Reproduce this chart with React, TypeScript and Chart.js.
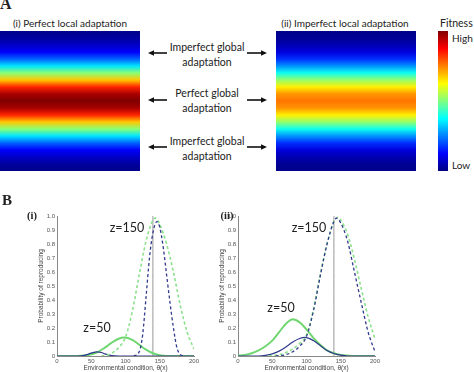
import React, { useEffect, useRef } from "react";
import { Chart, registerables } from "chart.js";
Chart.register(...registerables);

// ---------- DATA ----------
// Fitness profiles of the heat maps, top row to bottom row
const HEAT_PERFECT = [0.01, 0.03, 0.07, 0.12, 0.22, 0.35, 0.51, 0.68, 0.84, 0.96, 1.0, 0.96, 0.84, 0.68, 0.51, 0.35, 0.22, 0.12, 0.07, 0.03, 0.01];
const HEAT_IMPERFECT = [0.01, 0.02, 0.05, 0.09, 0.17, 0.27, 0.39, 0.52, 0.64, 0.73, 0.76, 0.73, 0.64, 0.52, 0.39, 0.27, 0.17, 0.09, 0.05, 0.02, 0.01];
const COLORBAR_LEVELS = [1, 0.875, 0.75, 0.625, 0.5, 0.375, 0.25, 0.125, 0];

// Panel B(i): [environmental condition, probability]
const B1_GREEN_SOLID: [number, number][] = [[0, 0], [30, 0], [40, 0.003], [50, 0.012], [60, 0.03], [70, 0.06], [80, 0.095], [90, 0.123], [98, 0.132], [110, 0.115], [120, 0.08], [130, 0.045], [140, 0.02], [150, 0.006], [160, 0], [200, 0]];
const B1_BLUE_SOLID: [number, number][] = [[0, 0], [30, 0], [40, 0.005], [50, 0.02], [58, 0.03], [65, 0.025], [70, 0.015], [80, 0.003], [90, 0], [200, 0]];
const B1_GREEN_DASH: [number, number][] = [[65, 0], [70, 0.003], [80, 0.02], [90, 0.06], [100, 0.135], [110, 0.32], [120, 0.58], [130, 0.82], [140, 0.97], [144, 0.985], [150, 0.94], [160, 0.8], [170, 0.6], [180, 0.36], [190, 0.17], [200, 0.05]];
const B1_BLUE_DASH: [number, number][] = [[112, 0], [120, 0.03], [125, 0.15], [130, 0.42], [135, 0.7], [140, 0.88], [146, 0.96], [150, 0.92], [155, 0.78], [160, 0.58], [165, 0.38], [170, 0.2], [175, 0.06], [180, 0.01], [185, 0]];

// Panel B(ii)
const B2_GREEN_SOLID: [number, number][] = [[0, 0.003], [10, 0.008], [20, 0.02], [30, 0.04], [40, 0.07], [50, 0.11], [60, 0.17], [70, 0.23], [80, 0.262], [90, 0.24], [100, 0.19], [110, 0.13], [120, 0.08], [130, 0.04], [140, 0.02], [150, 0.008], [160, 0.003], [170, 0], [200, 0]];
const B2_BLUE_SOLID: [number, number][] = [[0, 0], [30, 0], [40, 0.005], [50, 0.015], [60, 0.035], [70, 0.065], [80, 0.1], [90, 0.125], [98, 0.133], [110, 0.11], [120, 0.075], [130, 0.04], [140, 0.018], [150, 0.006], [160, 0], [200, 0]];
const B2_GREEN_DASH: [number, number][] = [[45, 0], [60, 0.01], [70, 0.025], [80, 0.05], [90, 0.09], [100, 0.15], [110, 0.33], [120, 0.58], [130, 0.8], [140, 0.96], [146, 0.99], [150, 0.97], [160, 0.87], [170, 0.69], [180, 0.48], [190, 0.28], [200, 0.12]];
const B2_BLUE_DASH: [number, number][] = [[55, 0], [70, 0.01], [80, 0.03], [90, 0.07], [100, 0.14], [110, 0.32], [120, 0.57], [130, 0.8], [140, 0.96], [144, 0.985], [150, 0.95], [160, 0.82], [170, 0.6], [180, 0.38], [190, 0.17], [200, 0.03]];

const OPTIMUM: [number, number][] = [[140, 0], [140, 1]];

// ---------- STYLE ----------
const GREEN = "rgb(112,214,112)";
const GREEN_DASH = "rgb(140,225,140)";
const BLUE = "rgb(48,58,140)";
const GREY = "rgb(150,150,150)";
const SANS = "Liberation Sans, Arial, sans-serif";
const HUMAN = "Lato, 'Open Sans', sans-serif";
const SERIF = "'Liberation Serif', 'Times New Roman', serif";

function jet(v: number) {
  const c = (x: number) => Math.max(0, Math.min(1, x));
  const r = c(1.5 - Math.abs(4 * v - 3));
  const g = c(1.5 - Math.abs(4 * v - 2));
  const b = c(1.5 - Math.abs(4 * v - 1));
  return `rgb(${Math.round(r * 255)},${Math.round(g * 255)},${Math.round(b * 255)})`;
}

function ChartBox({ config, left, top, width, height }: any) {
  const ref = useRef<HTMLCanvasElement>(null);
  useEffect(() => {
    const chart = new Chart(ref.current as HTMLCanvasElement, config());
    return () => chart.destroy();
  }, []);
  return (
    <canvas
      ref={ref}
      width={width}
      height={height}
      style={{ position: "absolute", left, top, width, height }}
    />
  );
}

function heatConfig(profile: number[]) {
  const n = profile.length;
  return () => ({
    type: "bar",
    data: { labels: [""], datasets: [{ data: [n - 1], borderWidth: 0,
      backgroundColor: (ctx: any) => {
        const chart = ctx.chart;
        const area = chart.chartArea;
        if (!area) return jet(profile[0]);
        const ys = chart.scales.y;
        const g = chart.ctx.createLinearGradient(0, area.top, 0, area.bottom);
        profile.forEach((v, i) => {
          const p = ys.getPixelForValue(n - 1 - i);
          const off = Math.max(0, Math.min(1, (p - area.top) / (area.bottom - area.top)));
          g.addColorStop(off, jet(v));
        });
        return g;
      },
      barPercentage: 1, categoryPercentage: 1 }] },
    options: {
      animation: false, responsive: false,
      layout: { padding: 0 },
      plugins: { legend: { display: false }, tooltip: { enabled: false } },
      scales: {
        x: { display: false },
        y: { display: false, min: 0, max: n - 1 },
      },
    },
  });
}

function lineDs(points: [number, number][], color: string, width: number, dash: number[] = []) {
  return {
    data: points.map(([x, y]) => ({ x, y })),
    borderColor: color, borderWidth: width, borderDash: dash,
    pointRadius: 0, fill: false, cubicInterpolationMode: "monotone",
  };
}

function probConfig(gs: any, bs: any, gd: any, bd: any) {
  return () => ({
    type: "line",
    data: {
      datasets: [
        lineDs(bd, BLUE, 1.3, [3, 2.5]),
        lineDs(gd, GREEN_DASH, 1.6, [3, 2.5]),
        lineDs(bs, BLUE, 1.2),
        lineDs(gs, GREEN, 2),
        lineDs(OPTIMUM, GREY, 1),
      ],
    },
    options: {
      animation: false, responsive: false,
      layout: { padding: { left: 37, top: 16, right: 16, bottom: 0 } },
      plugins: { legend: { display: false }, tooltip: { enabled: false } },
      scales: {
        x: {
          type: "linear", min: 0, max: 200,
          ticks: { stepSize: 50, font: { size: 6, family: SANS }, color: "#555", padding: 2, maxRotation: 0 },
          grid: { display: false, drawTicks: false },
          border: { display: true, color: "#888", width: 1 },
          title: { display: true, text: "Environmental condition, θ(x)", font: { size: 6.5, family: SANS }, color: "#444", padding: 0 },
          afterFit: (s: any) => { s.height = 16; },
        },
        y: {
          min: 0, max: 1,
          ticks: { stepSize: 0.1, font: { size: 6, family: SANS }, color: "#555", padding: 2 },
          grid: { display: false, drawTicks: false },
          border: { display: true, color: "#888", width: 1 },
          title: { display: true, text: "Probability of reproducing", font: { size: 6.5, family: SANS }, color: "#444", padding: 0 },
          afterFit: (s: any) => { s.width = 20; },
        },
      },
    },
  });
}

function Txt({ x, y, children, size = 10.5, family = HUMAN, weight = 400, color = "#222", anchor = "center" }: any) {
  const tx = anchor === "center" ? "-50%" : anchor === "right" ? "-100%" : "0";
  return (
    <div style={{ position: "absolute", left: x, top: y, transform: `translate(${tx},-50%)`, fontSize: size, fontFamily: family, fontWeight: weight, color, whiteSpace: "nowrap", lineHeight: 1 }}>
      {children}
    </div>
  );
}

function Arrow({ x1, x2, y }: any) {
  const dir = x2 > x1 ? 1 : -1;
  const hl = 6;
  return (
    <g>
      <line x1={x1 + dir * hl} y1={y} x2={x2} y2={y} stroke="#111" strokeWidth={1.6} />
      <polygon points={`${x1},${y} ${x1 + dir * hl},${y - 2.8} ${x1 + dir * hl},${y + 2.8}`} fill="#111" />
    </g>
  );
}

export default function App() {
  return (
    <div style={{ position: "absolute", left: 0, top: 0, width: 474, height: 372, overflow: "hidden", background: "#fff" }}>
      <Txt x={0} y={4} size={16} family={SERIF} weight={700} anchor="left">A</Txt>
      <Txt x={70} y={23} size={10}>(i) Perfect local adaptation</Txt>
      <Txt x={345} y={23} size={10}>(ii) Imperfect local adaptation</Txt>
      <Txt x={440} y={23} size={10.5} anchor="left">Fitness</Txt>
      <Txt x={452} y={38} size={10} anchor="left">High</Txt>
      <Txt x={452} y={165} size={10} anchor="left">Low</Txt>

      <ChartBox config={heatConfig(HEAT_PERFECT)} left={0} top={31} width={140} height={140} />
      <ChartBox config={heatConfig(HEAT_IMPERFECT)} left={276} top={31} width={140} height={140} />
      <ChartBox config={heatConfig(COLORBAR_LEVELS)} left={438} top={31} width={10} height={140} />

      <Txt x={207} y={47}>Imperfect global</Txt>
      <Txt x={207} y={62}>adaptation</Txt>
      <Txt x={207} y={93}>Perfect global</Txt>
      <Txt x={207} y={108}>adaptation</Txt>
      <Txt x={207} y={141}>Imperfect global</Txt>
      <Txt x={207} y={156}>adaptation</Txt>
      <svg width={474} height={372} style={{ position: "absolute", left: 0, top: 0 }}>
        <Arrow x1={148} x2={167} y={53} />
        <Arrow x1={148} x2={167} y={100} />
        <Arrow x1={148} x2={167} y={147} />
        <Arrow x1={267} x2={247} y={53} />
        <Arrow x1={267} x2={247} y={100} />
        <Arrow x1={267} x2={247} y={147} />
      </svg>

      <Txt x={2} y={200} size={15} family={SERIF} weight={700} anchor="left">B</Txt>
      <Txt x={32} y={216} size={10.5} family={SERIF} weight={700}>(i)</Txt>
      <Txt x={227} y={216} size={10.5} family={SERIF} weight={700}>(ii)</Txt>

      <ChartBox config={probConfig(B1_GREEN_SOLID, B1_BLUE_SOLID, B1_GREEN_DASH, B1_BLUE_DASH)} left={0} top={200} width={210} height={172} />
      <ChartBox config={probConfig(B2_GREEN_SOLID, B2_BLUE_SOLID, B2_GREEN_DASH, B2_BLUE_DASH)} left={180.5} top={200} width={210} height={172} />

      <Txt x={127} y={228} size={12.5}>z=150</Txt>
      <Txt x={97} y={328} size={12.5}>z=50</Txt>
      <Txt x={309} y={228} size={12.5}>z=150</Txt>
      <Txt x={281} y={308} size={12.5}>z=50</Txt>
    </div>
  );
}
